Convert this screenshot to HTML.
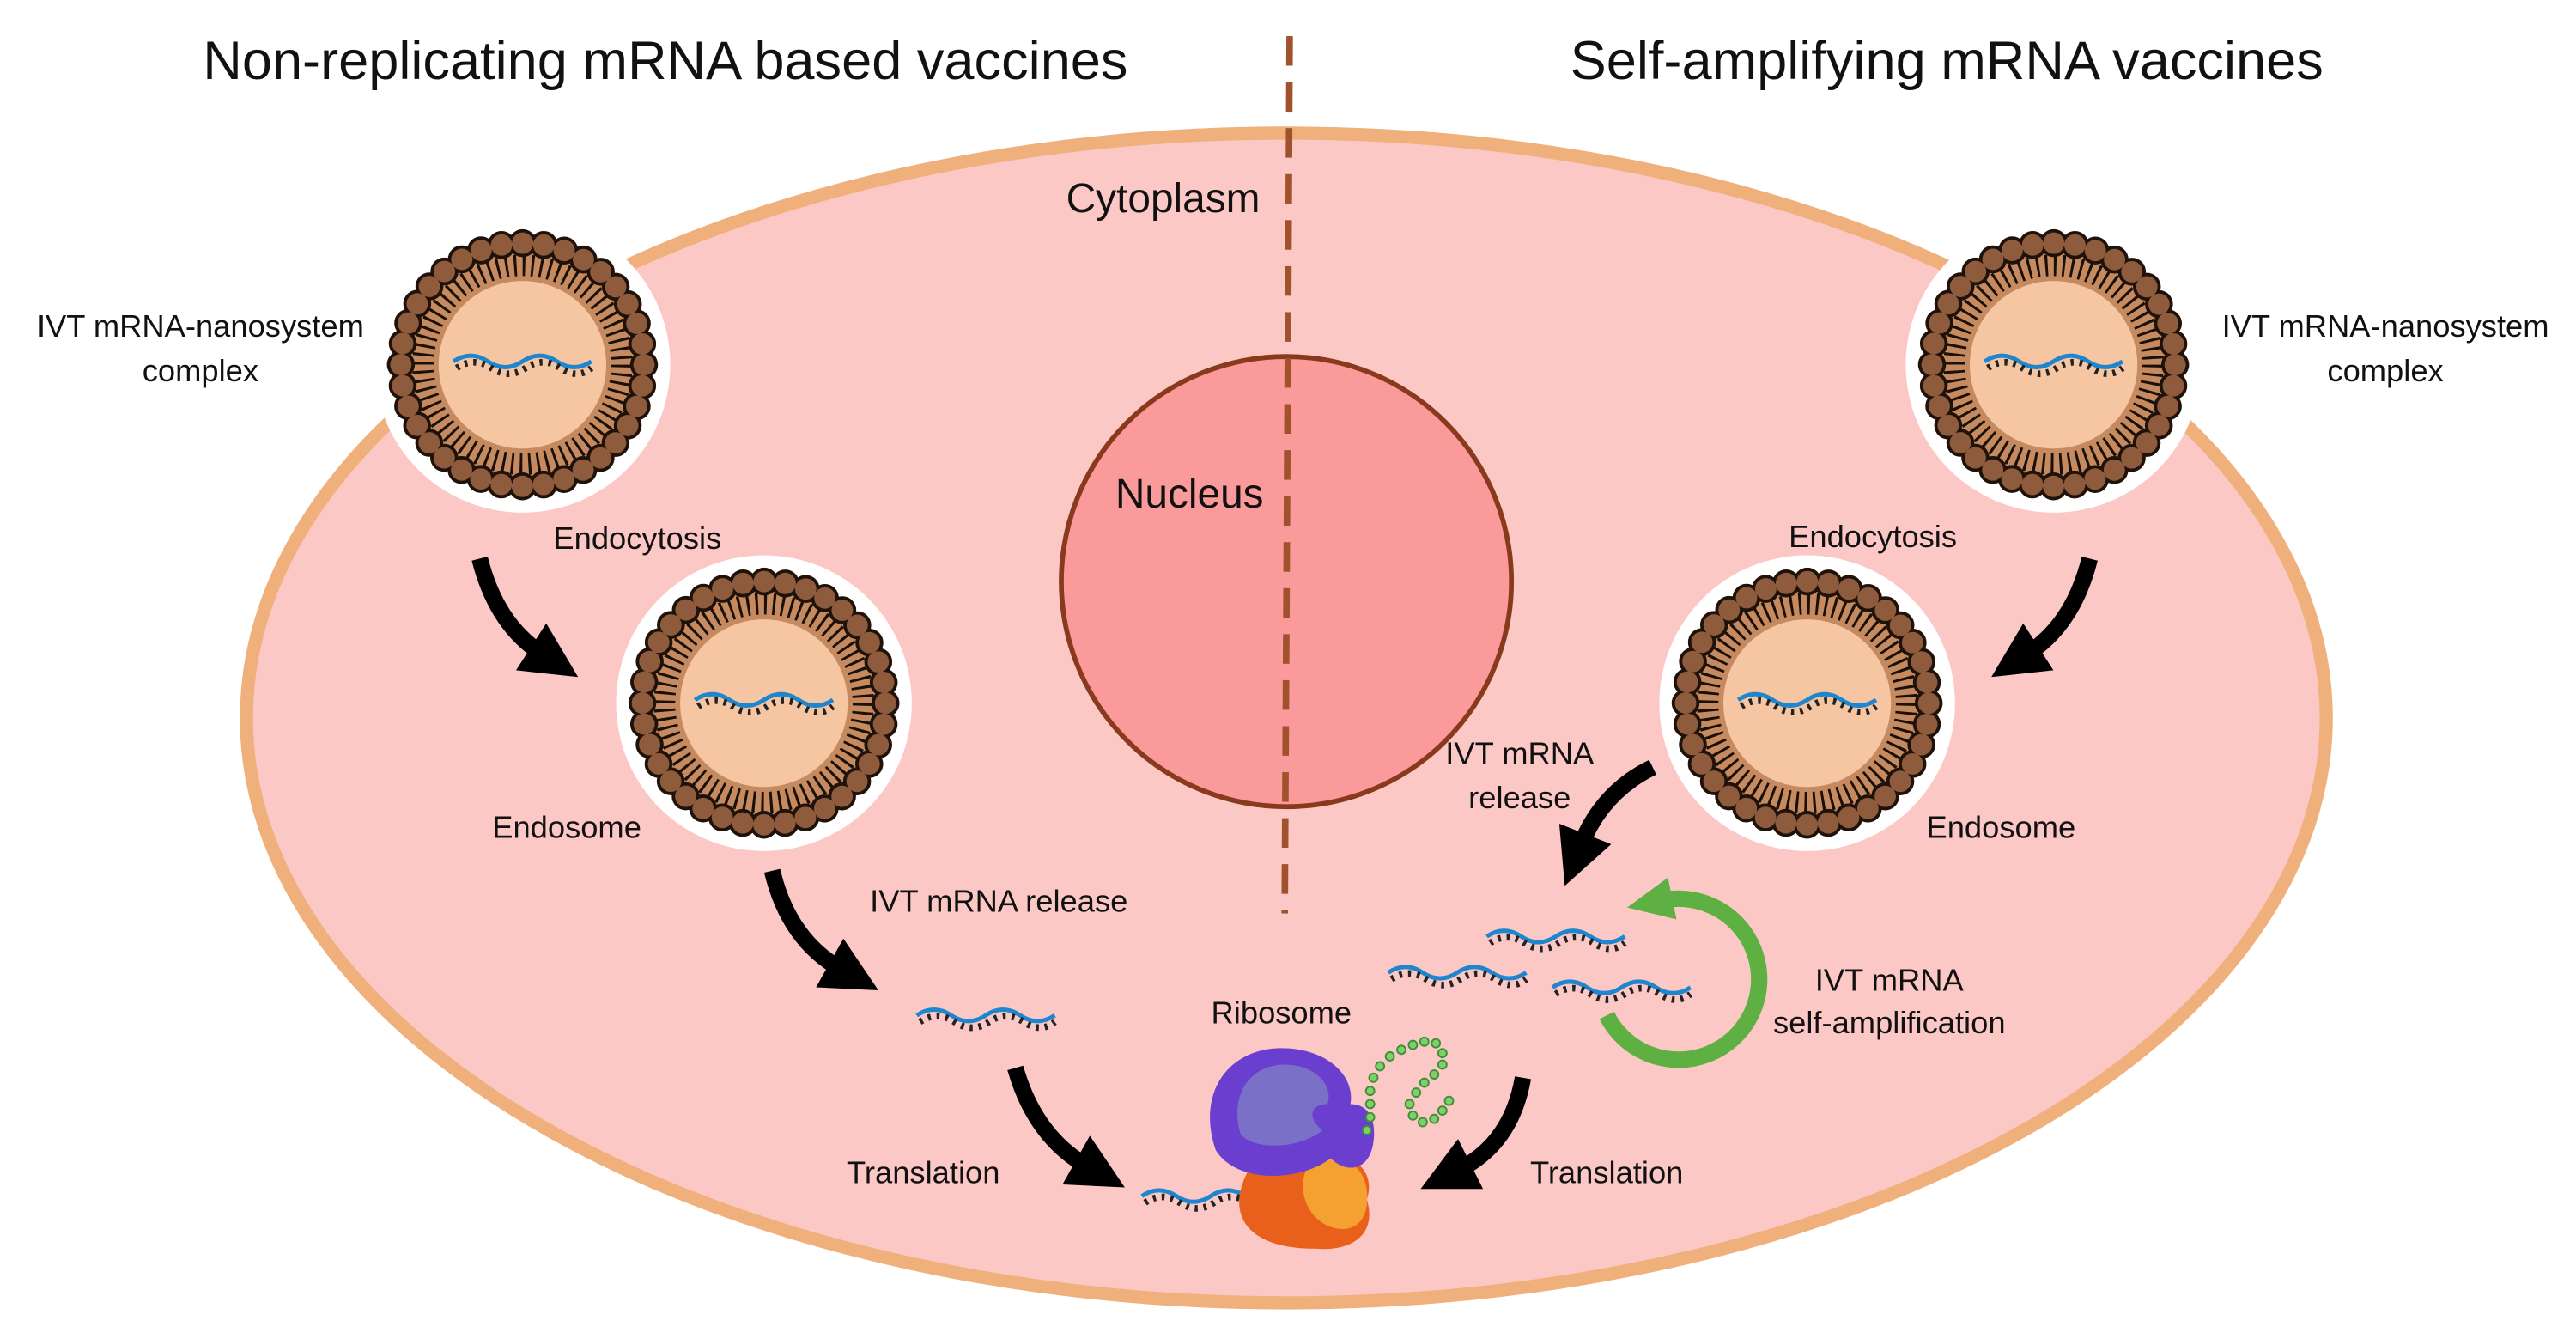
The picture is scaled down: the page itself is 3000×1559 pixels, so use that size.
<!DOCTYPE html>
<html><head><meta charset="utf-8"><style>
html,body{margin:0;padding:0;background:#fff;}
svg{display:block;}
text{font-family:"Liberation Sans",sans-serif;fill:#111;}
</style></head><body>
<svg width="3000" height="1559" viewBox="0 0 1568 815" preserveAspectRatio="none" xmlns="http://www.w3.org/2000/svg">
<defs>
<symbol id="rna" overflow="visible">
  <path d="M0,0 q10.5,-7 21,0 t21,0 t21,0 t21,0" fill="none" stroke="#1d86cf" stroke-width="2.6"/>
  <path d="M2,4 q10.5,-7 21,0 t21,0 t21,0 t19,0" fill="none" stroke="#222" stroke-width="4" stroke-dasharray="1.8 3.6"/>
</symbol>
<symbol id="np" overflow="visible">
  <circle r="90" fill="#fff"/>
  <circle r="70" fill="#c68a60"/>
  <circle r="60.5" fill="none" stroke="#1a1008" stroke-width="13" stroke-dasharray="1.6 3.68"/>
  <circle r="51" fill="#f6c6a3"/>
  <circle r="74" fill="none" stroke="#1e120a" stroke-width="17" stroke-linecap="round" stroke-dasharray="0 12.915"/>
  <circle r="74" fill="none" stroke="#8e5b3c" stroke-width="13" stroke-linecap="round" stroke-dasharray="0 12.915"/>
  <use href="#rna" x="-42" y="-2"/>
</symbol>
<marker id="ah" markerWidth="34" markerHeight="34" refX="8" refY="17" orient="auto" markerUnits="userSpaceOnUse">
  <path d="M0,0 L34,17 L0,34 Z" fill="#000"/>
</marker>
<marker id="gh" markerWidth="30" markerHeight="30" refX="6" refY="15" orient="auto" markerUnits="userSpaceOnUse">
  <path d="M0,2 L28,15 L0,28 Z" fill="#5fb043"/>
</marker>
</defs>

<text x="405" y="48" font-size="33" text-anchor="middle">Non-replicating mRNA based vaccines</text>
<text x="1185" y="48" font-size="33" text-anchor="middle">Self-amplifying mRNA vaccines</text>

<ellipse cx="783" cy="437" rx="633" ry="356" fill="#fcc8c6" stroke="#efb07c" stroke-width="8"/>

<circle cx="783" cy="354" r="137" fill="#fa9a9a" stroke="#8a3a1c" stroke-width="3"/>
<line x1="785" y1="22" x2="782" y2="556" stroke="#a0522d" stroke-width="4" stroke-dasharray="18 10"/>

<text x="708" y="129" font-size="25" text-anchor="middle">Cytoplasm</text>
<text x="724" y="309" font-size="25" text-anchor="middle">Nucleus</text>

<use href="#np" x="318" y="222"/>
<use href="#np" x="465" y="428"/>
<use href="#np" x="1250" y="222"/>
<use href="#np" x="1100" y="428"/>

<g font-size="19" text-anchor="middle">
<text x="122" y="205">IVT mRNA-nanosystem</text>
<text x="122" y="232">complex</text>
<text x="1452" y="205">IVT mRNA-nanosystem</text>
<text x="1452" y="232">complex</text>
<text x="388" y="334">Endocytosis</text>
<text x="1140" y="333">Endocytosis</text>
<text x="345" y="510">Endosome</text>
<text x="1218" y="510">Endosome</text>
<text x="608" y="555">IVT mRNA release</text>
<text x="925" y="465">IVT mRNA</text>
<text x="925" y="492">release</text>
<text x="1150" y="603">IVT mRNA</text>
<text x="1150" y="629">self-amplification</text>
<text x="562" y="720">Translation</text>
<text x="978" y="720">Translation</text>
<text x="780" y="623">Ribosome</text>
</g>

<g fill="none" stroke="#000" stroke-width="10" marker-end="url(#ah)">
<path d="M292,340 Q302,380 330,398"/>
<path d="M470,530 Q480,572 512,590"/>
<path d="M618,650 Q630,692 662,710"/>
<path d="M1272,340 Q1262,380 1234,398"/>
<path d="M1006,467 Q975,482 962,515"/>
<path d="M927,656 Q920,696 888,712"/>
</g>

<use href="#rna" x="558" y="618"/>
<use href="#rna" x="845" y="592"/>
<use href="#rna" x="905" y="570"/>
<use href="#rna" x="945" y="601"/>

<path d="M978,618 A49,49 0 1 0 1012,548" fill="none" stroke="#5fb043" stroke-width="10" marker-end="url(#gh)"/>

<!-- ribosome -->
<use href="#rna" x="695" y="728"/>
<path d="M760,712 C745,740 760,760 800,760 C825,762 838,750 832,730 C838,712 822,700 805,705 C790,690 770,698 760,712Z" fill="#e8601c"/>
<path d="M795,712 C810,700 830,705 832,725 C834,745 822,752 808,746 C795,740 790,724 795,712Z" fill="#f4a132"/>
<path d="M740,700 C728,665 748,638 780,638 C808,638 825,655 822,672 C832,672 838,680 836,695 C834,712 820,715 810,705 C790,720 752,720 740,700Z" fill="#6a3fcf"/>
<path d="M755,690 C748,665 762,648 782,648 C800,648 812,660 808,672 C798,672 795,680 805,688 C790,700 762,700 755,690Z" fill="#7a70c8"/>
<g fill="#7ed06a" stroke="#3f8f3a" stroke-width="1">
<circle cx="832" cy="688" r="2.6"/><circle cx="834" cy="680" r="2.6"/><circle cx="834" cy="672" r="2.6"/><circle cx="834" cy="664" r="2.6"/><circle cx="836" cy="656" r="2.6"/><circle cx="840" cy="649" r="2.6"/><circle cx="846" cy="643" r="2.6"/><circle cx="853" cy="639" r="2.6"/><circle cx="860" cy="636" r="2.6"/><circle cx="867" cy="634" r="2.6"/><circle cx="874" cy="635" r="2.6"/><circle cx="878" cy="641" r="2.6"/><circle cx="878" cy="648" r="2.6"/><circle cx="873" cy="654" r="2.6"/><circle cx="867" cy="659" r="2.6"/><circle cx="862" cy="665" r="2.6"/><circle cx="858" cy="672" r="2.6"/><circle cx="860" cy="679" r="2.6"/><circle cx="866" cy="683" r="2.6"/><circle cx="873" cy="681" r="2.6"/><circle cx="878" cy="676" r="2.6"/><circle cx="882" cy="670" r="2.6"/>
</g>
</svg>
</body></html>
